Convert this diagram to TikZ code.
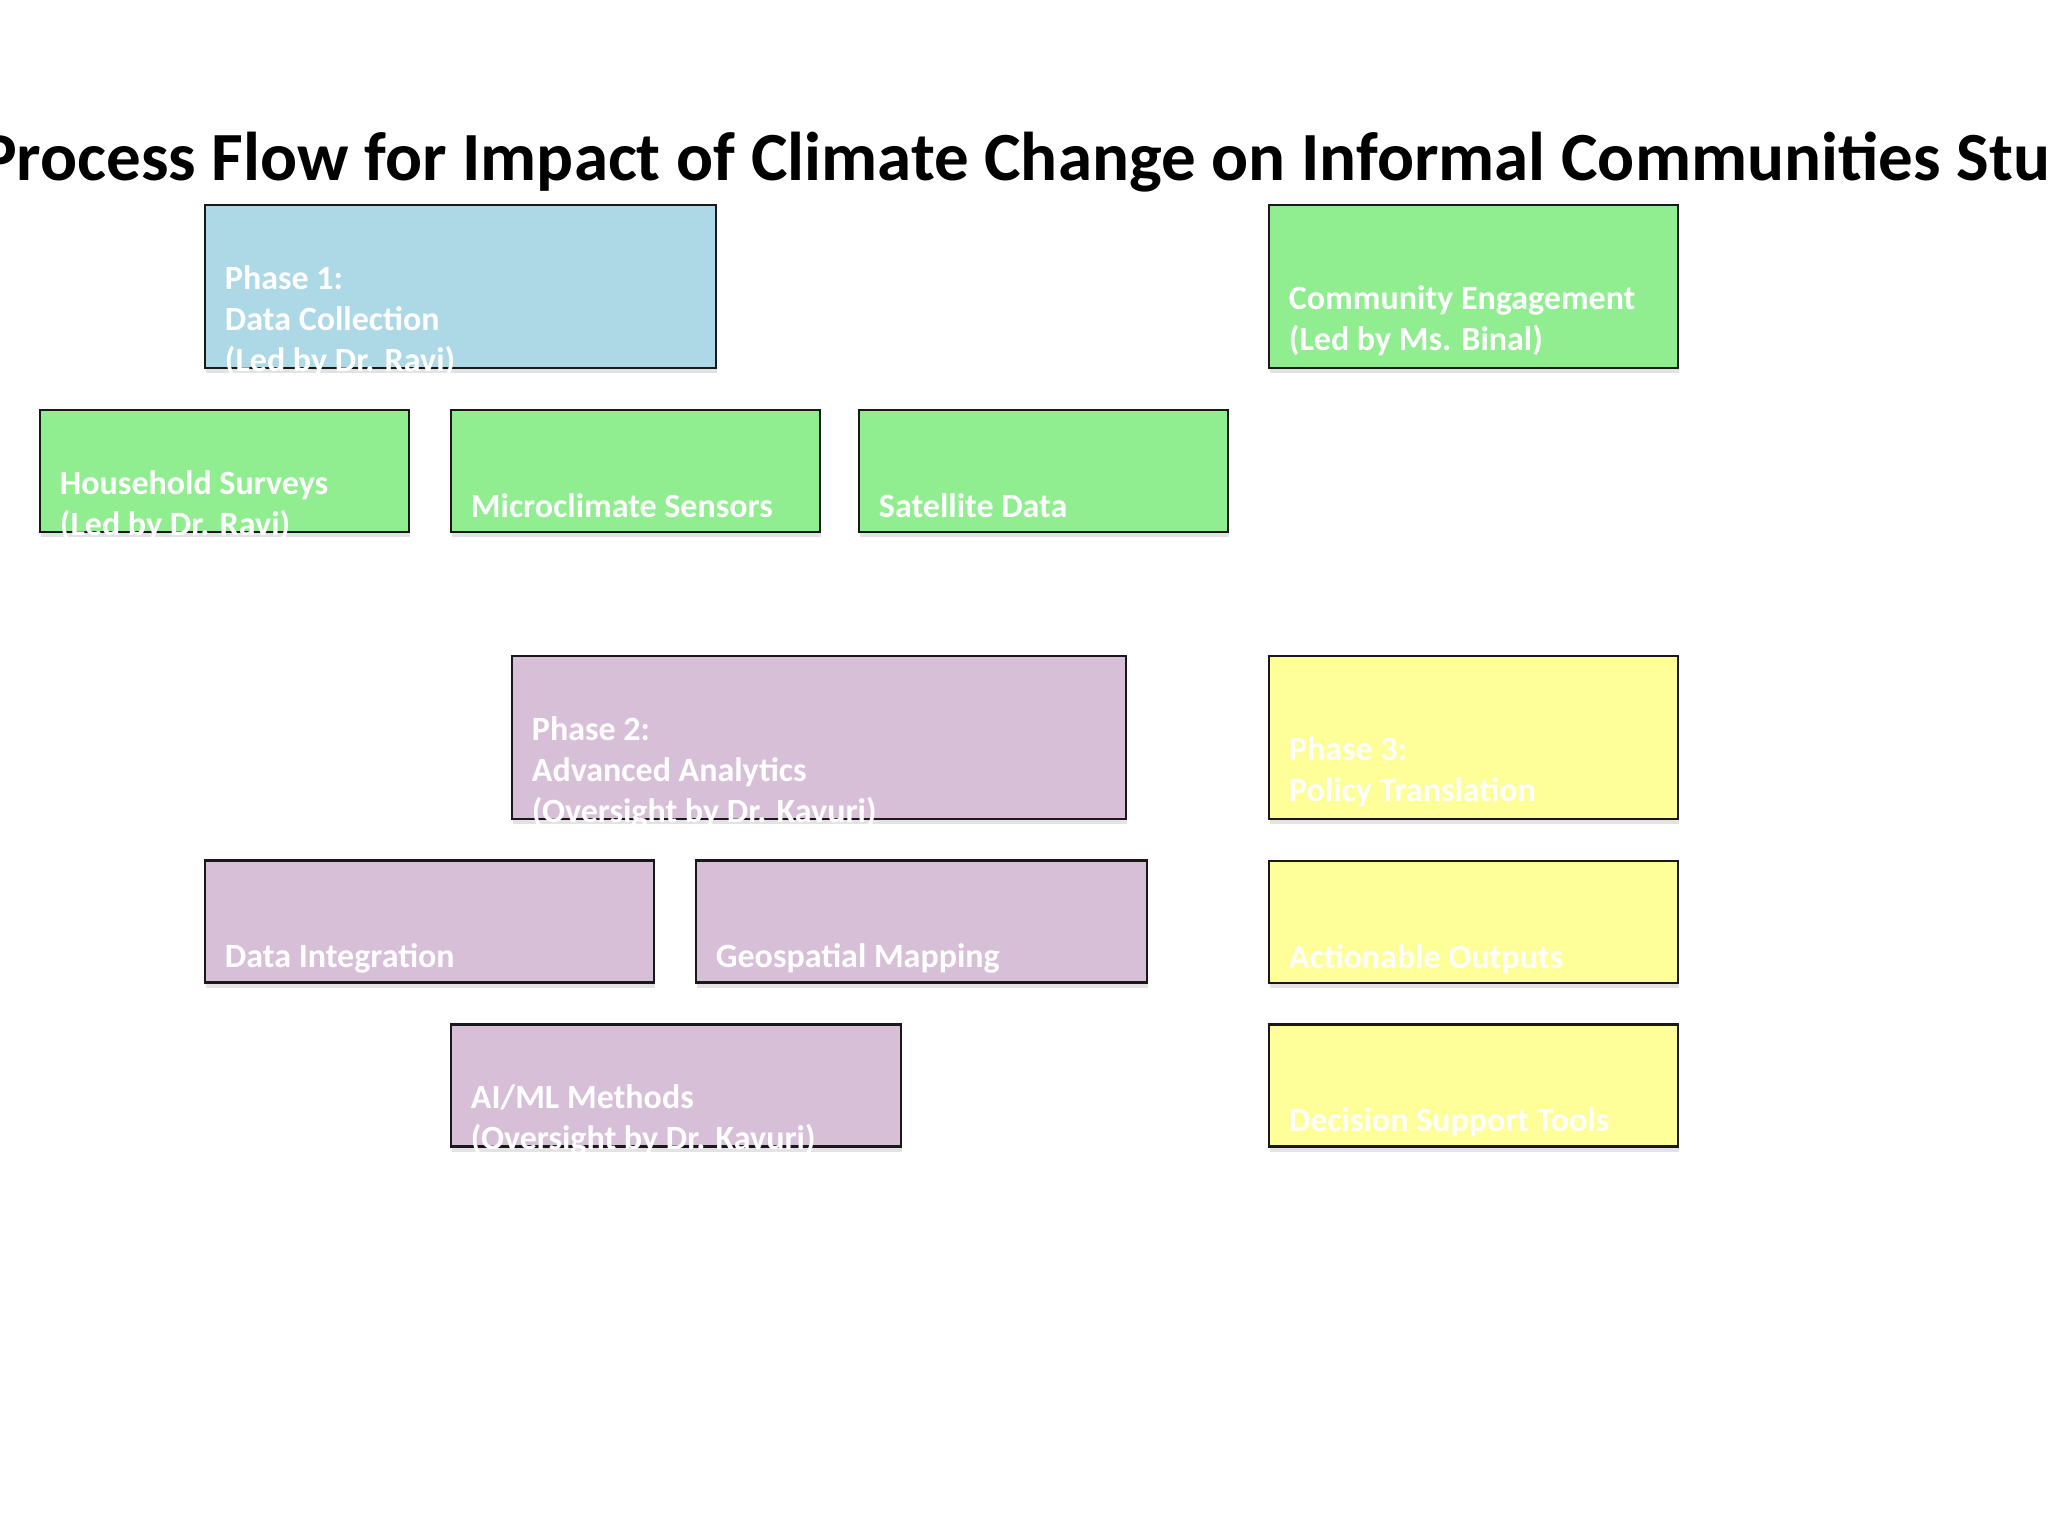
\documentclass[tikz,border=0pt]{standalone}
\usepackage{fontspec}
\setmainfont{Carlito}
\usetikzlibrary{positioning,shadows}

\definecolor{phaseblue}{HTML}{ADD8E6}
\definecolor{taskgreen}{HTML}{90EE90}
\definecolor{taskpurple}{HTML}{D8BFD8}
\definecolor{taskyellow}{HTML}{FFFF99}

\tikzset{
    box/.style={draw=black!90, line width=2.5pt, inner sep=0pt,
        minimum height=163pt, drop shadow={opacity=0.22, shadow xshift=1pt, shadow yshift=-5pt}},
    lowbox/.style={box, minimum height=122pt},
    lbl/.style={anchor=west, align=left, text=white, inner sep=0pt,
        font=\fontsize{34}{41}\selectfont\bfseries,
        execute at begin node=\strut, execute at end node=\strut},
    ttl/.style={anchor=base, font=\fontsize{69}{83}\selectfont\bfseries}
}

\begin{document}
\begin{tikzpicture}[x=1pt, y=-1pt]
    \useasboundingbox[fill=white] (0,0) rectangle (2048,1536);
    \node[ttl] (title) at (1050,180) {Process Flow for Impact of Climate Change on Informal Communities Study};

    % phase 1 and its tasks
    \node[box, fill=phaseblue, minimum width=511pt] (p1) at (460.5,286.5) {};
    \node[box, fill=taskgreen, minimum width=409pt] (ce) at (1473.5,286.5) {};
    \node[lowbox, fill=taskgreen, minimum width=369pt] (hs) at (224.5,471) {};
    \node[lowbox, fill=taskgreen, minimum width=369pt] (ms) at (635.5,471) {};
    \node[lowbox, fill=taskgreen, minimum width=369pt] (sd) at (1043.5,471) {};

    % phase 2 and its tasks
    \node[box, fill=taskpurple, minimum width=614pt] (p2) at (819,737.5) {};
    \node[lowbox, fill=taskpurple, minimum width=449pt] (di) at (429.5,921.5) {};
    \node[lowbox, fill=taskpurple, minimum width=451pt] (gm) at (921.5,921.5) {};
    \node[lowbox, fill=taskpurple, minimum width=450pt] (ml) at (676,1085.5) {};

    % phase 3 and its tasks
    \node[box, fill=taskyellow, minimum width=409pt] (p3) at (1473.5,737.5) {};
    \node[lowbox, fill=taskyellow, minimum width=409pt] (ao) at (1473.5,922) {};
    \node[lowbox, fill=taskyellow, minimum width=409pt] (ds) at (1473.5,1085.5) {};

    % texts sit a little below the middle of each box
    \node[lbl] (p1txt) at ([xshift=21pt,yshift=-38pt]p1.west) {Phase 1:\\Data Collection\\(Led by Dr. Ravi)};
    \node[lbl] (cetxt) at ([xshift=21pt,yshift=-38pt]ce.west) {Community Engagement\\(Led by Ms. Binal)};
    \node[lbl] (hstxt) at ([xshift=21pt,yshift=-38pt]hs.west) {Household Surveys\\(Led by Dr. Ravi)};
    \node[lbl] (mstxt) at ([xshift=21pt,yshift=-38pt]ms.west) {Microclimate Sensors};
    \node[lbl] (sdtxt) at ([xshift=21pt,yshift=-38pt]sd.west) {Satellite Data};
    \node[lbl] (p2txt) at ([xshift=21pt,yshift=-38pt]p2.west) {Phase 2:\\Advanced Analytics\\(Oversight by Dr. Kavuri)};
    \node[lbl] (ditxt) at ([xshift=21pt,yshift=-38pt]di.west) {Data Integration};
    \node[lbl] (gmtxt) at ([xshift=21pt,yshift=-38pt]gm.west) {Geospatial Mapping};
    \node[lbl] (mltxt) at ([xshift=21pt,yshift=-38pt]ml.west) {AI/ML Methods\\(Oversight by Dr. Kavuri)};
    \node[lbl] (p3txt) at ([xshift=21pt,yshift=-38pt]p3.west) {Phase 3:\\Policy Translation};
    \node[lbl] (aotxt) at ([xshift=21pt,yshift=-38pt]ao.west) {Actionable Outputs};
    \node[lbl] (dstxt) at ([xshift=21pt,yshift=-38pt]ds.west) {Decision Support Tools};
\end{tikzpicture}
\end{document}
